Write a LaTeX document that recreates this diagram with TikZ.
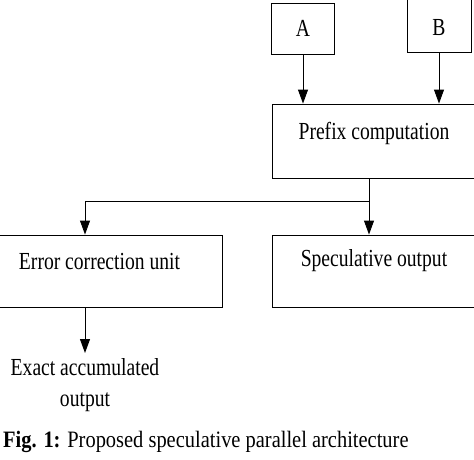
\documentclass[tikz,border=0pt]{standalone}
\usepackage{fontspec}
\setmainfont{Liberation Serif}
\newfontfamily\narrowfont[FakeStretch=0.8]{Liberation Serif}
\newfontfamily\captionfont[FakeStretch=0.87]{Liberation Serif}
\usetikzlibrary{arrows.meta,positioning}

\begin{document}
\begin{tikzpicture}[x=1pt,y=-1pt,
  box/.style={rectangle, draw, line width=0.9pt, inner sep=0pt},
  lbl/.style={font=\narrowfont\fontsize{24.5}{31}\selectfont},
  arr/.style={line width=0.9pt, -{Triangle[length=14pt,width=10pt]}}]
  \useasboundingbox (0,0) rectangle (474,459);
  % inputs
  \node [box, lbl, minimum width=63pt, minimum height=51pt] (a) at (303,28.5) {A};
  \node [box, lbl, minimum width=64pt, text height=39pt, text depth=17pt, anchor=base] (b) at (439,35) {B};
  % prefix stage
  \node [box, lbl, minimum width=204pt, text height=35.3pt, text depth=38.7pt, anchor=base] (prefix) at (374,139.3) {Prefix computation};
  % outputs
  \node [box, lbl, text width=182pt, inner xsep=21pt, align=flush left, text height=34.3pt, text depth=37.7pt, anchor=base] (ecu) at (110,269.3) {Error correction unit};
  \node [box, lbl, minimum width=204pt, text height=31.7pt, text depth=40.3pt, anchor=base] (spec) at (374,266.7) {Speculative output};
  \node [lbl, inner sep=0pt, align=center, anchor=north] (exact) at (85,358) {Exact accumulated\\output};
  % caption
  \node [font=\captionfont\fontsize{23.5}{28}\selectfont, inner sep=0pt, anchor=base west] (cap) at (3,447.3) {\bfseries Fig. 1:\mdseries{} Proposed speculative parallel architecture};
  % connectors
  \draw[arr] (a) -- (a |- prefix.north);
  \draw[arr] (b) -- (b |- prefix.north);
  \coordinate (split) at (369,201);
  \draw[line width=0.9pt] (split |- prefix.south) -- (split);
  \draw[arr] (split) -- (split |- spec.north);
  \draw[arr] (split) -| ([xshift=-25pt]ecu.north);
  \draw[arr, shorten >=5pt] ([xshift=-25pt]ecu.south) -- (exact.north);
\end{tikzpicture}
\end{document}
